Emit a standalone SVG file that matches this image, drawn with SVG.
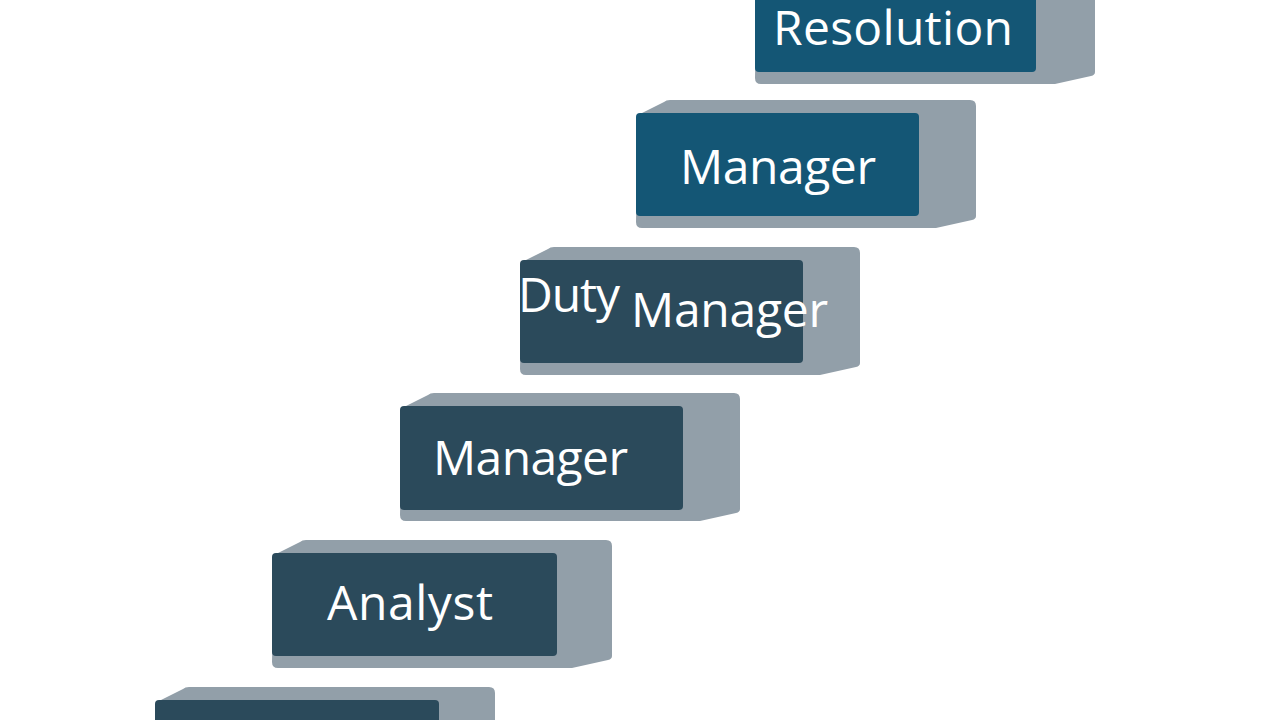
<svg xmlns="http://www.w3.org/2000/svg" width="1280" height="720" viewBox="0 0 1280 720">
<style>
.side{fill:#929fa9;}
.dark{fill:#2b4a5b;}
.blue{fill:#145675;}
.lbl{fill:#ffffff;font-family:"Open Sans","Noto Sans",sans-serif;font-size:48px;}
</style>
<defs>
<path id="box" class="side" d="M2,2 L28,-11 Q30,-13 34,-13 L334,-13 Q340,-13 340,-7 L340,103 Q340,106 336,107 L300,115 L6,115 Q0,115 0,109 Z"/>
</defs>
<rect width="1280" height="720" fill="#ffffff"/>
<g id="step1" transform="translate(155,700)">
<use href="#box"/>
<rect class="dark" x="0" y="0" width="284" height="103" rx="4"/>
</g>
<g id="step2" transform="translate(272,553)">
<use href="#box"/>
<rect class="dark" x="0" y="0" width="285" height="103" rx="4"/>
<text class="lbl" x="55" y="67" textLength="166">Analyst</text>
</g>
<g id="step3" transform="translate(400,406)">
<use href="#box"/>
<rect class="dark" x="0" y="0" width="283" height="104" rx="4"/>
<text class="lbl" x="33" y="69" textLength="195">Manager</text>
</g>
<g id="step4" transform="translate(520,260)">
<use href="#box"/>
<rect class="dark" x="0" y="0" width="283" height="103" rx="4"/>
<text class="lbl" x="-2" y="52" textLength="102">Duty</text>
<text class="lbl" x="111" y="67" textLength="197">Manager</text>
</g>
<g id="step5" transform="translate(636,113)">
<use href="#box"/>
<rect class="blue" x="0" y="0" width="283" height="103" rx="4"/>
<text class="lbl" x="44" y="71" textLength="196">Manager</text>
</g>
<g id="step6" transform="translate(755,-31)">
<use href="#box"/>
<rect class="blue" x="0" y="0" width="281" height="103" rx="4"/>
<text class="lbl" x="18" y="76" textLength="240">Resolution</text>
</g>
<g id="connectors"></g>
</svg>
